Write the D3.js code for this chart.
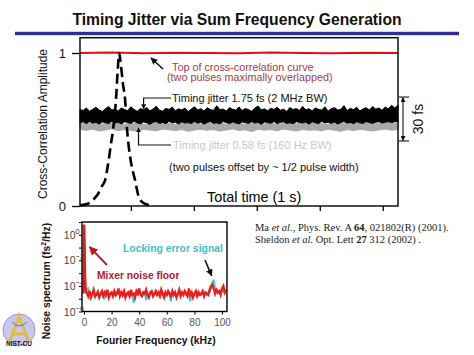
<!DOCTYPE html>
<html><head><meta charset="utf-8">
<script src="https://cdn.jsdelivr.net/npm/d3@7"></script>
<style>body{margin:0;background:#fff}svg{display:block}</style>
</head><body><svg id="c" width="474" height="355"></svg>
<script>
// ---------------- data ----------------
const titleText = "Timing Jitter via Sum Frequency Generation";

// top panel: total time as fraction of 1 s, amplitude normalised
const topTicks = [0.16, 0.358, 0.556, 0.754, 0.952];
const topYTicks = [0, 1];
const peakT = [0.0,0.025,0.041,0.057,0.069,0.079,0.088,0.097,0.104,0.113,0.119,0.123,0.127,0.135,0.142,0.148,0.157,0.167,0.173,0.182,0.189,0.204,0.23];
const peakA = [0.005,0.015,0.04,0.08,0.13,0.17,0.27,0.4,0.5,0.69,0.9,1.0,0.95,0.8,0.69,0.5,0.33,0.22,0.17,0.08,0.04,0.015,0.003];
const topLevel = [1,1.003,0.998,1.002,1,0.999,1.003,1,0.998,1.002,1];
const blackUpper = [0.63,0.625,0.64,0.62,0.632,0.645,0.628,0.618,0.636,0.65,
 0.627,0.633,0.62,0.641,0.63,0.624,0.648,0.631,0.619,0.637,
 0.629,0.644,0.622,0.634,0.652,0.626,0.62,0.638,0.631,0.646,
 0.623,0.635,0.628,0.64,0.617,0.633,0.649,0.627,0.636,0.621,
 0.642,0.63,0.625,0.655,0.629,0.634,0.62,0.643,0.632,0.626,
 0.647,0.624,0.637,0.63,0.619,0.641,0.653,0.628,0.635,0.622,
 0.639,0.631,0.645,0.626,0.633,0.618,0.644,0.63,0.637,0.625,
 0.651,0.629,0.636,0.622,0.64,0.632,0.627,0.648,0.62,0.635,
 0.643,0.628,0.631,0.656,0.624,0.638,0.63,0.645,0.621,0.634,
 0.642,0.627,0.65,0.633,0.64,0.626,0.647,0.635,0.658,0.64,0.66];
const blackLower = [0.545,0.55,0.538,0.552,0.541,0.547,0.535,0.55,0.544,0.539,
 0.553,0.542,0.548,0.536,0.551,0.545,0.54,0.555,0.543,0.537,
 0.549,0.544,0.533,0.548,0.552,0.54,0.546,0.538,0.554,0.543,
 0.547,0.536,0.55,0.542,0.545,0.539,0.553,0.541,0.548,0.535,
 0.546,0.551,0.54,0.544,0.537,0.552,0.545,0.539,0.549,0.543,
 0.536,0.55,0.544,0.54,0.553,0.542,0.547,0.534,0.549,0.545,
 0.541,0.552,0.538,0.546,0.55,0.54,0.544,0.537,0.551,0.546,
 0.542,0.548,0.535,0.55,0.544,0.539,0.553,0.543,0.547,0.54,
 0.549,0.536,0.545,0.552,0.541,0.546,0.538,0.55,0.544,0.54,
 0.551,0.545,0.539,0.548,0.553,0.542,0.547,0.55,0.545,0.552,0.55];
const grayUpper = [0.54,0.535,0.545,0.531,0.541,0.537,0.548,0.533,0.54,0.544,0.532,0.539,0.546,0.536,0.541,0.53,0.543,0.538,0.547,0.534,0.54,0.536,0.545,0.532,0.542,0.538,0.533,0.546,0.54,0.535,0.543,0.531,0.539,0.547,0.536,0.541,0.534,0.545,0.538,0.532,0.544,0.54,0.535,0.548,0.537,0.542,0.533,0.546,0.539,0.543,0.54];
const grayLower = [0.5,0.495,0.503,0.49,0.498,0.505,0.493,0.5,0.496,0.488,0.502,0.497,0.492,0.504,0.499,0.494,0.501,0.489,0.497,0.503,0.495,0.5,0.491,0.498,0.505,0.494,0.499,0.487,0.502,0.496,0.5,0.493,0.504,0.497,0.49,0.501,0.495,0.499,0.492,0.503,0.496,0.489,0.5,0.494,0.502,0.497,0.491,0.499,0.504,0.495,0.5];

// bottom panel: Fourier frequency (kHz) and log10 of noise spectrum (fs^2/Hz)
const freqTicks = [0, 20, 40, 60, 80, 100];
const noiseDecades = [1, 0, -1, -2, -3, -4, -5, -6];
const noiseLabels = [0, -2, -4, -6];
const spikeF = [-0.4, 0, 0.25, 0.5, 0.8, 1.2, 1.6];
const redSpike = [-4.6, 0.8, 0.5, -1.2, -3.2, -4.2, -4.5];
const cyanSpike = [-4.6, 0.3, -0.5, -2.5, -3.8, -4.4, -4.4];
const floorF = d3.range(2, 104);
const redFloor = [-4.5,-4.8,-4.4,-4.9,-4.6,-4.3,-4.8,-4.7,-4.5,-4.9,
 -4.6,-4.4,-4.8,-4.5,-4.7,-4.3,-4.9,-4.6,-4.5,-4.8,
 -4.4,-4.7,-4.6,-4.2,-4.8,-4.5,-4.7,-4.4,-4.9,-4.6,
 -4.5,-4.8,-4.3,-4.7,-4.6,-4.9,-4.4,-4.6,-4.2,-4.7,
 -4.8,-4.5,-4.6,-4.3,-4.7,-4.9,-4.5,-4.4,-4.8,-4.6,
 -4.4,-4.7,-4.5,-4.8,-4.3,-4.6,-4.9,-4.5,-4.7,-4.4,
 -4.6,-4.8,-4.4,-4.7,-4.5,-4.9,-4.6,-4.3,-4.8,-4.5,
 -4.7,-4.4,-4.6,-4.8,-4.2,-4.7,-4.5,-4.9,-4.6,-4.4,
 -4.8,-4.5,-4.7,-4.6,-4.4,-4.8,-4.5,-4.6,-4.7,-4.3,
 -4.0,-3.9,-4.2,-4.6,-4.3,-4.5,-4.4,-4.7,-4.2,-4.0,-4.5,-4.3];
const cyanFloor = [-4.3,-4.2,-4.5,-4.7,-4.6,-4.5,-4.9,-4.6,-4.4,-4.8,
 -4.7,-4.5,-4.6,-4.9,-4.6,-4.5,-4.8,-4.7,-4.6,-4.7,
 -4.6,-4.8,-4.5,-4.4,-4.7,-4.6,-4.8,-4.5,-4.7,-4.7,
 -4.6,-4.7,-4.5,-4.8,-5.3,-4.8,-4.6,-4.7,-4.5,-4.6,
 -4.7,-4.6,-4.5,-5.1,-4.6,-4.8,-4.6,-4.5,-4.7,-4.7,
 -4.5,-4.6,-4.6,-4.7,-4.5,-4.7,-4.8,-4.6,-4.6,-4.5,
 -4.7,-5.2,-4.5,-4.6,-4.6,-4.8,-4.7,-4.5,-4.7,-4.6,
 -4.6,-4.5,-4.7,-4.7,-4.4,-5.2,-4.6,-4.8,-4.7,-4.5,
 -4.7,-4.6,-4.6,-4.7,-4.5,-4.7,-4.6,-4.7,-4.6,-4.5,
 -4.2,-3.7,-3.6,-4.3,-4.4,-4.6,-4.5,-4.6,-4.4,-4.3,-4.6,-4.4];

const refLine1 = ["Ma ", "et al.", ", Phys. Rev. A ", "64", ", 021802(R) (2001)."];
const refLine2 = ["Sheldon ", "et al.", " Opt. Lett ", "27", " 312 (2002) ."];

// ---------------- drawing ----------------
const SANS = "'Liberation Sans', Arial, sans-serif";
const SERIF = "'Liberation Serif', 'Times New Roman', serif";
const svg = d3.select("#c");
svg.append("rect").attr("width", 474).attr("height", 355).attr("fill", "#fff");

const defs = svg.append("defs");
function marker(id, color, size) {
  defs.append("marker").attr("id", id).attr("viewBox", "0 0 10 10")
    .attr("refX", 9).attr("refY", 5).attr("markerWidth", size).attr("markerHeight", size)
    .attr("markerUnits", "userSpaceOnUse").attr("orient", "auto")
    .append("path").attr("d", "M0,0 L10,5 L0,10 Z").attr("fill", color);
}
marker("ab", "#111", 7);
marker("as", "#111", 5);
marker("ar", "#c0161e", 9);

// title
svg.append("text").attr("x", 237).attr("y", 25).attr("text-anchor", "middle")
  .attr("font-family", SANS).attr("font-weight", "bold").attr("font-size", 15.7)
  .attr("fill", "#111").text(titleText);
svg.append("rect").attr("x", 15).attr("y", 31.8).attr("width", 444).attr("height", 3.4).attr("fill", "#2e3192");

// ---------- top panel ----------
const xT = d3.scaleLinear([0, 1], [80, 398]);
const yT = d3.scaleLinear([0, 1.1], [206, 37.7]);

const area = (up, lo) => d3.area()
  .x((d, i) => xT(i / (up.length - 1)))
  .y0((d, i) => yT(lo[i])).y1((d, i) => yT(up[i]));

svg.append("path").datum(grayUpper).attr("d", area(grayUpper, grayLower))
  .attr("fill", "#a9a9a9").attr("stroke", "#a9a9a9").attr("stroke-width", 1.2).attr("stroke-linejoin", "bevel");
svg.append("path").datum(blackUpper).attr("d", area(blackUpper, blackLower))
  .attr("fill", "#000").attr("stroke", "#000").attr("stroke-width", 1).attr("stroke-linejoin", "bevel");

svg.append("path").datum(topLevel)
  .attr("d", d3.line().x((d, i) => xT(i / (topLevel.length - 1))).y(d => yT(d)))
  .attr("fill", "none").attr("stroke", "#e01010").attr("stroke-width", 2);

svg.append("path").datum(peakT)
  .attr("d", d3.line().curve(d3.curveMonotoneX).x(d => xT(d)).y((d, i) => yT(peakA[i])))
  .attr("fill", "none").attr("stroke", "#000").attr("stroke-width", 2.6).attr("stroke-dasharray", "10,5");

svg.append("rect").attr("x", xT(0)).attr("y", yT(1.1)).attr("width", xT(1) - xT(0)).attr("height", yT(0) - yT(1.1))
  .attr("fill", "none").attr("stroke", "#000").attr("stroke-width", 1.4);

const axL = svg.append("g").attr("transform", `translate(${xT(0)},0)`)
  .call(d3.axisLeft(yT).tickValues(topYTicks).tickSize(8).tickPadding(6).tickFormat(d3.format("d")));
axL.select(".domain").remove();
axL.selectAll("text").attr("font-family", SANS).attr("font-size", 13).attr("fill", "#111");
const axB = svg.append("g").attr("transform", `translate(0,${yT(0)})`)
  .call(d3.axisBottom(xT).tickValues(topTicks).tickSize(5).tickFormat(""));
axB.select(".domain").remove();
svg.selectAll(".tick line").attr("stroke", "#000").attr("stroke-width", 1.3);

svg.append("text").attr("transform", "translate(47,124) rotate(-90)").attr("text-anchor", "middle")
  .attr("font-family", SANS).attr("font-size", 12).attr("fill", "#111").text("Cross-Correlation Amplitude");

// annotations top
svg.append("line").attr("x1", 163).attr("y1", 69).attr("x2", 151).attr("y2", 58)
  .attr("stroke", "#111").attr("stroke-width", 1.6).attr("marker-end", "url(#ab)");
svg.append("text").attr("x", 172).attr("y", 70.5).attr("font-family", SANS).attr("font-size", 10.8)
  .attr("fill", "#a83a3c").text("Top of cross-correlation curve");
svg.append("text").attr("x", 167).attr("y", 81).attr("font-family", SANS).attr("font-size", 10.8)
  .attr("fill", "#a83a3c").text("(two pulses maximally overlapped)");

svg.append("polyline").attr("points", `171,98 ${xT(0.2)},98 ${xT(0.2)},${yT(0.635)}`)
  .attr("fill", "none").attr("stroke", "#111").attr("stroke-width", 1.2).attr("marker-end", "url(#as)");
svg.append("text").attr("x", 172).attr("y", 102).attr("font-family", SANS).attr("font-size", 11)
  .attr("fill", "#111").text("Timing jitter 1.75 fs (2 MHz BW)");

svg.append("polyline").attr("points", `171,145 ${xT(0.184)},145 ${xT(0.184)},${yT(0.51)}`)
  .attr("fill", "none").attr("stroke", "#111").attr("stroke-width", 1.2).attr("marker-end", "url(#as)");
svg.append("text").attr("x", 173).attr("y", 149).attr("font-family", SANS).attr("font-size", 11)
  .attr("fill", "#c8c8c8").text("Timing jitter 0.58 fs (160 Hz BW)");

svg.append("text").attr("x", 169).attr("y", 171).attr("font-family", SANS).attr("font-size", 11)
  .attr("fill", "#111").text("(two pulses offset by ~ 1/2 pulse width)");
svg.append("text").attr("x", 207).attr("y", 202).attr("font-family", SANS).attr("font-size", 14.4)
  .attr("fill", "#000").text("Total time (1 s)");

// 30 fs bar
const barTop = yT(0.712), barBot = yT(0.425);
svg.append("line").attr("x1", 403).attr("x2", 403).attr("y1", (barTop + barBot) / 2).attr("y2", barTop + 0.5)
  .attr("stroke", "#111").attr("stroke-width", 1.1).attr("marker-end", "url(#as)");
svg.append("line").attr("x1", 403).attr("x2", 403).attr("y1", (barTop + barBot) / 2).attr("y2", barBot - 0.5)
  .attr("stroke", "#111").attr("stroke-width", 1.1).attr("marker-end", "url(#as)");
[barTop, barBot].forEach(y => svg.append("line").attr("x1", 399).attr("x2", 409).attr("y1", y).attr("y2", y)
  .attr("stroke", "#111").attr("stroke-width", 1.1));
svg.append("text").attr("transform", `translate(423,${(barTop + barBot) / 2}) rotate(-90)`).attr("text-anchor", "middle")
  .attr("font-family", SANS).attr("font-size", 14).attr("fill", "#111").text("30 fs");

// ---------- bottom panel ----------
const xB = d3.scaleLinear([0, 100], [84, 222]);
const yB = d3.scaleLinear([-6, 1], [311.5, 222]); // log10 exponent axis

const redF = spikeF.concat(floorF), redV = redSpike.concat(redFloor);
const cyanV = cyanSpike.concat(cyanFloor);
const ln = vals => d3.line().x((d) => xB(d)).y((d, i) => yB(vals[i]));

defs.append("clipPath").attr("id", "clipB").append("rect")
  .attr("x", xB(-1.45)).attr("y", yB(1)).attr("width", xB(103.6) - xB(-1.45)).attr("height", yB(-6) - yB(1));
const gB = svg.append("g").attr("clip-path", "url(#clipB)");
gB.append("path").datum(redF).attr("d", ln(cyanV)).attr("fill", "none").attr("stroke", "#3cc6cf").attr("stroke-width", 2);
gB.append("path").datum(redF).attr("d", ln(redV)).attr("fill", "none").attr("stroke", "#ee1b1b").attr("stroke-width", 2.3);

svg.append("rect").attr("x", xB(-1.45)).attr("y", yB(1)).attr("width", xB(103.6) - xB(-1.45)).attr("height", yB(-6) - yB(1))
  .attr("fill", "none").attr("stroke", "#000").attr("stroke-width", 1.4);

const bl = svg.append("g").attr("transform", `translate(${xB(-1.45)},0)`)
  .call(d3.axisLeft(yB).tickValues(noiseDecades).tickSize(3).tickFormat(""));
bl.select(".domain").remove();
bl.selectAll("line").attr("stroke", "#000");
noiseLabels.forEach(e => {
  svg.append("text").attr("x", 75.5).attr("y", yB(e) + 4).attr("text-anchor", "end")
    .attr("font-family", SANS).attr("font-size", 10.5).attr("fill", "#444").text("10");
  svg.append("text").attr("x", 75.5).attr("y", yB(e) - 1).attr("font-family", SANS).attr("font-size", 7.5)
    .attr("fill", "#444").text(e === 0 ? "0" : "\u2212" + Math.abs(e));
});
const bb = svg.append("g").attr("transform", `translate(0,${yB(-6)})`)
  .call(d3.axisBottom(xB).tickValues(freqTicks).tickSize(3).tickPadding(4).tickFormat(d3.format("d")));
bb.select(".domain").remove();
bb.selectAll("line").attr("stroke", "#000");
bb.selectAll("text").attr("font-family", SANS).attr("font-size", 10).attr("fill", "#555");

svg.append("text").attr("x", 156).attr("y", 344).attr("text-anchor", "middle")
  .attr("font-family", SANS).attr("font-weight", "bold").attr("font-size", 10.4).attr("fill", "#111")
  .text("Fourier Frequency (kHz)");
const yl = svg.append("text").attr("transform", "translate(50,281) rotate(-90)").attr("text-anchor", "middle")
  .attr("font-family", SANS).attr("font-weight", "bold").attr("font-size", 10.4).attr("fill", "#111");
yl.append("tspan").text("Noise spectrum (fs");
yl.append("tspan").attr("font-size", 7).attr("dy", -4).text("2");
yl.append("tspan").attr("dy", 4).text("/Hz)");

svg.append("text").attr("x", 123).attr("y", 252).attr("font-family", SANS).attr("font-weight", "bold")
  .attr("font-size", 10.4).attr("fill", "#3cc0cc").text("Locking error signal");
svg.append("text").attr("x", 97).attr("y", 279).attr("font-family", SANS).attr("font-weight", "bold")
  .attr("font-size", 10.3).attr("fill", "#b0202c").text("Mixer noise floor");
svg.append("line").attr("x1", 107).attr("y1", 265).attr("x2", xB(4)).attr("y2", yB(-0.95))
  .attr("stroke", "#c0161e").attr("stroke-width", 1.8).attr("marker-end", "url(#ar)");
svg.append("line").attr("x1", 205).attr("y1", 260).attr("x2", xB(92.5)).attr("y2", yB(-3.2))
  .attr("stroke", "#111").attr("stroke-width", 1.6).attr("marker-end", "url(#ab)");

// reference text
[[refLine1, 231], [refLine2, 243]].forEach(([parts, y]) => {
  const t = svg.append("text").attr("x", 255).attr("y", y).attr("font-family", SERIF).attr("font-size", 10.5).attr("fill", "#222");
  parts.forEach((p, i) => {
    const s = t.append("tspan").text(p);
    if (i === 1) s.attr("font-style", "italic");
    if (i === 3) s.attr("font-weight", "bold");
  });
});

// logo
const logo = svg.append("g");
logo.append("circle").attr("cx", 19).attr("cy", 330).attr("r", 16).attr("fill", "#c9c6ef").attr("stroke", "#9a98d0").attr("stroke-width", 1);
logo.append("path").attr("d", "M9,343 L19,316 L29,343 M13,334 L25,334").attr("fill", "none")
  .attr("stroke", "#d8c040").attr("stroke-width", 3);
logo.append("path").attr("d", "M12,322 Q19,330 27,322").attr("fill", "none").attr("stroke", "#6a6a9a").attr("stroke-width", 1);
logo.append("text").attr("x", 19).attr("y", 346).attr("text-anchor", "middle").attr("font-family", SANS)
  .attr("font-weight", "bold").attr("font-size", 6.5).attr("fill", "#111").text("NIST-CU");
</script></body></html>
